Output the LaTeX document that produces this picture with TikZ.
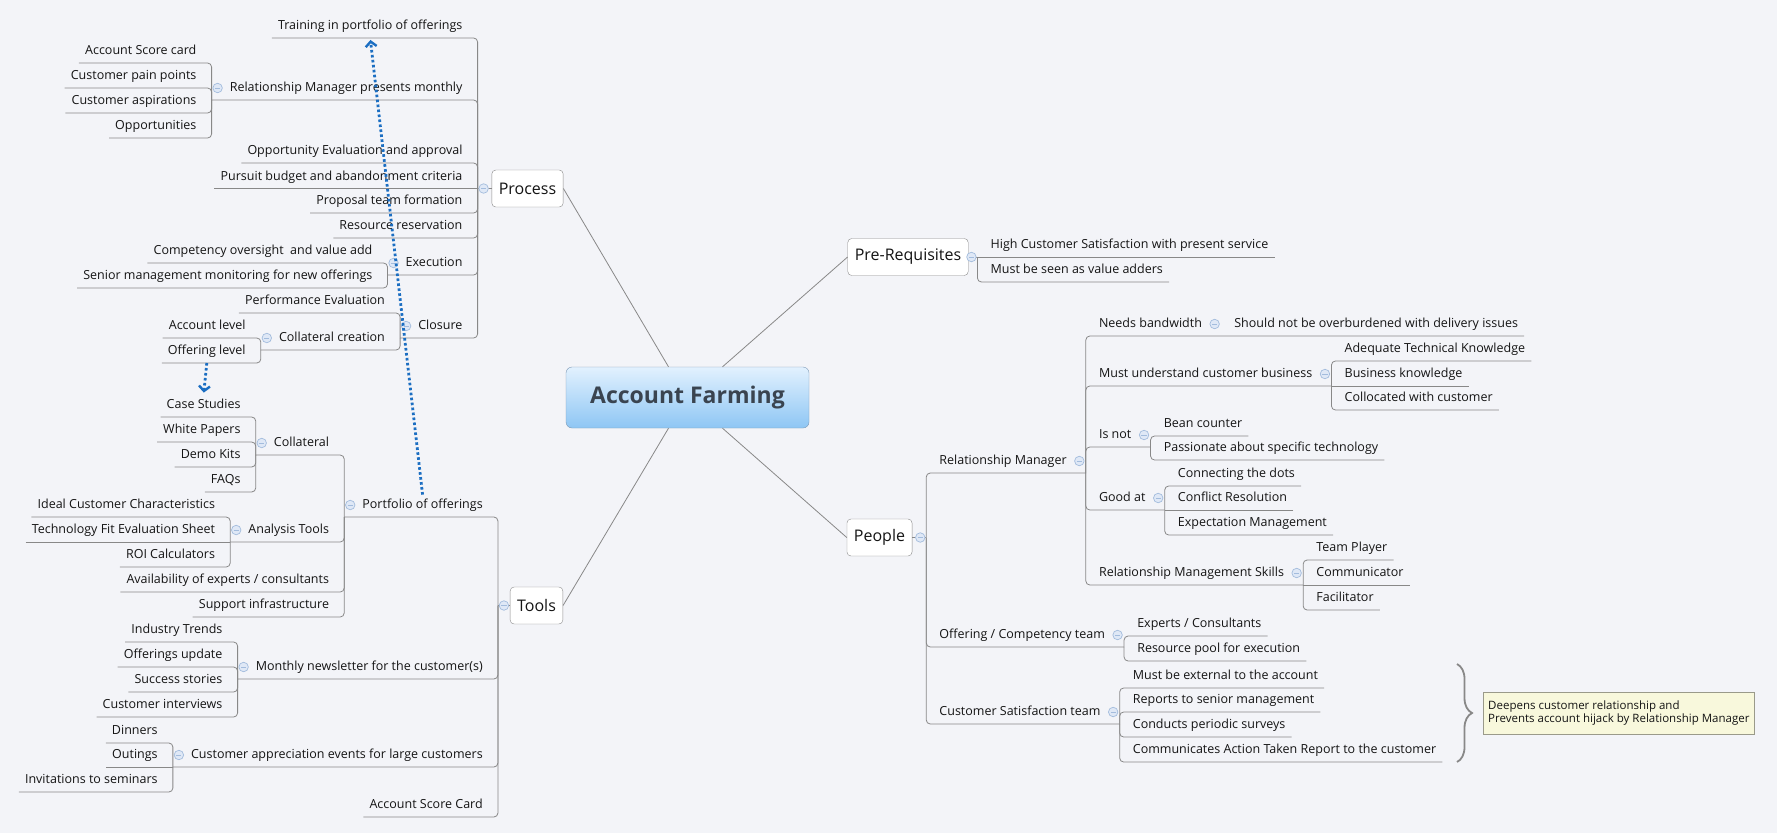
\documentclass[tikz,border=0pt]{standalone}
\usepackage{fontspec}
\setmainfont{Open Sans}
\usetikzlibrary{arrows.meta, decorations.pathreplacing}

\definecolor{bg}{HTML}{F3F4F8}
\definecolor{ink}{HTML}{141414}
\definecolor{wire}{HTML}{888888}
\definecolor{frame}{HTML}{8C8C8C}
\definecolor{hubtop}{HTML}{E2F1FE}
\definecolor{hubbot}{HTML}{8EC6F4}
\definecolor{hubline}{HTML}{7C98B4}
\definecolor{hubtext}{HTML}{3A4450}
\definecolor{togline}{HTML}{A3BCDD}
\definecolor{togfill}{HTML}{DFE8F6}
\definecolor{linkblue}{HTML}{1B6EC2}
\definecolor{notefill}{HTML}{F8F8DC}
\definecolor{noteline}{HTML}{9A9A8A}

\tikzset{
  ln/.style = {draw = wire, line width = 0.8pt, rounded corners = 4pt},
  topic/.style = {font = \fontsize{12.5}{15}\selectfont, text = ink, inner xsep = 6pt, inner ysep = 5pt, text height = 9pt, text depth = 3pt},
  lt/.style = {topic, anchor = south east, xshift = -9pt},
  rt/.style = {topic, anchor = south west, xshift = 7pt},
  branch/.style = {draw = frame, fill = white, rounded corners = 4pt, font = \fontsize{16}{19}\selectfont, text = ink, minimum height = 37pt, inner xsep = 7pt},
  hub/.style = {draw = hubline, top color = hubtop, bottom color = hubbot, rounded corners = 6pt, minimum width = 243pt, minimum height = 61pt, font = \fontsize{23}{27}\selectfont\bfseries, text = hubtext},
  tog/.style = {circle, draw = togline, fill = togfill, line width = 0.7pt, minimum size = 9.5pt, inner sep = 0pt,
    path picture = {\draw[togline, line width = 0.9pt] ([xshift=-2.6pt]path picture bounding box.center) -- ([xshift=2.6pt]path picture bounding box.center);}},
  togL/.style = {tog, xshift = 6pt, yshift = 12pt},
  togR/.style = {tog, xshift = -6.5pt, yshift = 12pt},
  mtogL/.style = {tog, xshift = 6pt},
  mtogR/.style = {tog, xshift = -6pt},
  dotlink/.style = {draw = linkblue, line width = 2.8pt, dash pattern = on 2.6pt off 2.4pt, shorten > = 2pt,
    -{Straight Barb[length = 5pt, width = 11pt, line width = 2.4pt]}},
  note/.style = {draw = noteline, fill = notefill, font = \fontsize{11.5}{13.3}\selectfont, text = ink, align = left, anchor = west, minimum height = 42pt, inner xsep = 5pt},
  brc/.style = {draw = wire, line width = 1.8pt, decorate, decoration = {brace, amplitude = 15pt}}
}

\begin{document}
\begin{tikzpicture}[x=1pt, y=-1pt]
  \fill[bg] (0,0) rectangle (1777,833);
  \useasboundingbox (0,0) rectangle (1777,833);

  % centre and the four branches
  \node[hub] (af) at (687.5,397.5) {Account Farming};
  \node[branch] (process) at (527.5,188.5) {Process};
  \node[branch] (prereq) at (908,257) {Pre-Requisites};
  \node[branch] (people) at (879.5,537.5) {People};
  \node[branch] (tools) at (536.5,605.5) {Tools};
  \draw[ln] ([xshift=-19pt]af.north) -- (process.east);
  \draw[ln] ([xshift=35pt]af.north) -- (prereq.west);
  \draw[ln] ([xshift=35pt]af.south) -- (people.west);
  \draw[ln] ([xshift=-19pt]af.south) -- (tools.east);

  \coordinate (procT) at ([xshift=-14pt]process.west);
  \coordinate (toolT) at ([xshift=-12pt]tools.west);
  \coordinate (prT) at ([xshift=9pt]prereq.east);
  \coordinate (peoT) at ([xshift=14pt]people.east);
  \draw[ln] (process.west) -- (procT);
  \draw[ln] (tools.west) -- (toolT);
  \draw[ln] (prereq.east) -- (prT);
  \draw[ln] (people.east) -- (peoT);

  % Process
  \node[lt] (tr) at (procT |- 0,38) {Training in portfolio of offerings};
  \node[lt] (rmp) at (procT |- 0,100) {Relationship Manager presents monthly};
  \node[lt] (oea) at (procT |- 0,163) {Opportunity Evaluation and approval};
  \node[lt] (pbc) at (procT) {Pursuit budget and abandonment criteria};
  \node[lt] (ptf) at (procT |- 0,213) {Proposal team formation};
  \node[lt] (rr) at (procT |- 0,238) {Resource reservation};
  \node[lt] (ex) at (procT |- 0,275) {Execution};
  \node[lt] (clo) at (procT |- 0,338) {Closure};
  \coordinate (rmpT) at ([xshift=-12pt]rmp.south west);
  \coordinate (exT) at ([xshift=-12pt]ex.south west);
  \coordinate (cloT) at ([xshift=-12pt]clo.south west);

  \node[lt] (ascd) at (rmpT |- 0,63) {Account Score card};
  \node[lt] (cpp) at (rmpT |- 0,88) {Customer pain points};
  \node[lt] (ca) at (rmpT |- 0,113) {Customer aspirations};
  \node[lt] (opp) at (rmpT |- 0,138) {Opportunities};
  \node[lt] (cov) at (exT |- 0,263) {Competency oversight\ \ and value add};
  \node[lt] (smm) at (exT |- 0,288) {Senior management monitoring for new offerings};
  \node[lt] (pe) at (cloT |- 0,313) {Performance Evaluation};
  \node[lt] (cc) at (cloT |- 0,350) {Collateral creation};
  \coordinate (ccT) at ([xshift=-12pt]cc.south west);
  \node[lt] (al) at (ccT |- 0,338) {Account level};
  \node[lt] (ol) at (ccT |- 0,363) {Offering level};

  \foreach \n in {tr, oea, ptf, rr} \draw[ln] (\n.south west) -| (procT);
  \draw[ln] (pbc.south west) -- (procT);
  \foreach \n in {rmpT, exT, cloT} \draw[ln] (\n) -| (procT);
  \foreach \n in {ascd, cpp, ca, opp} \draw[ln] (\n.south west) -| (rmpT);
  \foreach \n in {cov, smm} \draw[ln] (\n.south west) -| (exT);
  \draw[ln] (pe.south west) -| (cloT);
  \draw[ln] (ccT) -| (cloT);
  \foreach \n in {al, ol} \draw[ln] (\n.south west) -| (ccT);

  % Tools
  \node[lt] (port) at (toolT |- 0,517) {Portfolio of offerings};
  \node[lt] (nl) at (toolT |- 0,679) {Monthly newsletter for the customer(s)};
  \node[lt] (ev) at (toolT |- 0,767) {Customer appreciation events for large customers};
  \node[lt] (ascc) at (toolT |- 0,817) {Account Score Card};
  \coordinate (portT) at ([xshift=-12pt]port.south west);
  \coordinate (nlT) at ([xshift=-12pt]nl.south west);
  \coordinate (evT) at ([xshift=-12pt]ev.south west);

  \node[lt] (col) at (portT |- 0,455) {Collateral};
  \node[lt] (ana) at (portT |- 0,542) {Analysis Tools};
  \node[lt] (aec) at (portT |- 0,592) {Availability of experts / consultants};
  \node[lt] (si) at (portT |- 0,617) {Support infrastructure};
  \coordinate (colT) at ([xshift=-12pt]col.south west);
  \coordinate (anaT) at ([xshift=-12pt]ana.south west);

  \node[lt] (cs) at (colT |- 0,417) {Case Studies};
  \node[lt] (wp) at (colT |- 0,442) {White Papers};
  \node[lt] (dk) at (colT |- 0,467) {Demo Kits};
  \node[lt] (faq) at (colT |- 0,492) {FAQs};
  \node[lt] (icc) at (anaT |- 0,517) {Ideal Customer Characteristics};
  \node[lt] (tfe) at (anaT) {Technology Fit Evaluation Sheet};
  \node[lt] (roi) at (anaT |- 0,567) {ROI Calculators};
  \node[lt] (itr) at (nlT |- 0,642) {Industry Trends};
  \node[lt] (ou) at (nlT |- 0,667) {Offerings update};
  \node[lt] (sst) at (nlT |- 0,692) {Success stories};
  \node[lt] (ci) at (nlT |- 0,717) {Customer interviews};
  \node[lt] (din) at (evT |- 0,743) {Dinners};
  \node[lt] (outg) at (evT) {Outings};
  \node[lt] (inv) at (evT |- 0,792) {Invitations to seminars};

  \foreach \n in {portT, nlT, evT} \draw[ln] (\n) -| (toolT);
  \draw[ln] (ascc.south west) -| (toolT);
  \foreach \n in {colT, anaT} \draw[ln] (\n) -| (portT);
  \foreach \n in {aec, si} \draw[ln] (\n.south west) -| (portT);
  \foreach \n in {cs, wp, dk, faq} \draw[ln] (\n.south west) -| (colT);
  \foreach \n in {icc, roi} \draw[ln] (\n.south west) -| (anaT);
  \draw[ln] (tfe.south west) -- (anaT);
  \foreach \n in {itr, ou, sst, ci} \draw[ln] (\n.south west) -| (nlT);
  \foreach \n in {din, inv} \draw[ln] (\n.south west) -| (evT);
  \draw[ln] (outg.south west) -- (evT);

  % Pre-Requisites
  \node[rt] (hcs) at (prT) {High Customer Satisfaction with present service};
  \node[rt] (mbs) at (prT |- 0,282) {Must be seen as value adders};
  \draw[ln] (hcs.south east) -- (prT);
  \draw[ln] (mbs.south east) -| (prT);

  % People
  \node[rt] (rm) at (peoT |- 0,473) {Relationship Manager};
  \node[rt] (oct) at (peoT |- 0,647) {Offering / Competency team};
  \node[rt] (cst) at (peoT |- 0,724) {Customer Satisfaction team};
  \coordinate (rmT) at ([xshift=13pt]rm.south east);
  \coordinate (octT) at ([xshift=13pt]oct.south east);
  \coordinate (cstT) at ([xshift=13pt]cst.south east);

  \node[rt] (nb) at (rmT |- 0,336) {Needs bandwidth};
  \node[rt] (mu) at (rmT |- 0,386) {Must understand customer business};
  \node[rt] (isn) at (rmT |- 0,447) {Is not};
  \node[rt] (ga) at (rmT |- 0,510) {Good at};
  \node[rt] (rms) at (rmT |- 0,585) {Relationship Management Skills};
  \coordinate (nbT) at ([xshift=13pt]nb.south east);
  \coordinate (muT) at ([xshift=13pt]mu.south east);
  \coordinate (isnT) at ([xshift=13pt]isn.south east);
  \coordinate (gaT) at ([xshift=13pt]ga.south east);
  \coordinate (rmsT) at ([xshift=13pt]rms.south east);

  \node[rt] (sno) at (nbT) {Should not be overburdened with delivery issues};
  \node[rt] (atk) at (muT |- 0,361) {Adequate Technical Knowledge};
  \node[rt] (bk) at (muT) {Business knowledge};
  \node[rt] (cwc) at (muT |- 0,410) {Collocated with customer};
  \node[rt] (bc) at (isnT |- 0,436) {Bean counter};
  \node[rt] (pas) at (isnT |- 0,460) {Passionate about specific technology};
  \node[rt] (ctd) at (gaT |- 0,486) {Connecting the dots};
  \node[rt] (cr) at (gaT) {Conflict Resolution};
  \node[rt] (em) at (gaT |- 0,535) {Expectation Management};
  \node[rt] (tp) at (rmsT |- 0,560) {Team Player};
  \node[rt] (com) at (rmsT) {Communicator};
  \node[rt] (fac) at (rmsT |- 0,610) {Facilitator};
  \node[rt] (ecs) at (octT |- 0,636) {Experts / Consultants};
  \node[rt] (rpe) at (octT |- 0,661) {Resource pool for execution};
  \node[rt] (mbe) at (cstT |- 0,688) {Must be external to the account};
  \node[rt] (rsm) at (cstT |- 0,712) {Reports to senior management};
  \node[rt] (cps) at (cstT |- 0,737) {Conducts periodic surveys};
  \node[rt] (cat) at (cstT |- 0,762) {Communicates Action Taken Report to the customer};

  \foreach \n in {rmT, octT, cstT} \draw[ln] (\n) -| (peoT);
  \foreach \n in {muT, isnT, gaT, rmsT} \draw[ln] (\n) -| (rmT);
  \draw[ln] (sno.south east) -- (nbT) -| (rmT);
  \foreach \n in {atk, cwc} \draw[ln] (\n.south east) -| (muT);
  \draw[ln] (bk.south east) -- (muT);
  \foreach \n in {bc, pas} \draw[ln] (\n.south east) -| (isnT);
  \foreach \n in {ctd, em} \draw[ln] (\n.south east) -| (gaT);
  \draw[ln] (cr.south east) -- (gaT);
  \foreach \n in {tp, fac} \draw[ln] (\n.south east) -| (rmsT);
  \draw[ln] (com.south east) -- (rmsT);
  \foreach \n in {ecs, rpe} \draw[ln] (\n.south east) -| (octT);
  \foreach \n in {mbe, rsm, cps, cat} \draw[ln] (\n.south east) -| (cstT);

  % summary brace and note
  \coordinate (brtop) at (1457,664);
  \coordinate (brbot) at (1457,762);
  \draw[brc] (brtop) -- (brbot);
  \node[note] (nt) at (1483,713) {Deepens customer relationship and\\Prevents account hijack by Relationship Manager};

  % collapse markers
  \node[mtogL] at (procT) {};
  \node[mtogL] at (toolT) {};
  \node[mtogR] at (prT) {};
  \node[mtogR] at (peoT) {};
  \foreach \n in {rmpT, exT, cloT, ccT, portT, colT, anaT, nlT, evT} \node[togL] at (\n) {};
  \foreach \n in {rmT, nbT, muT, isnT, gaT, rmsT, octT, cstT} \node[togR] at (\n) {};

  % relationship links
  \draw[dotlink] (port.north) -- (tr.south);
  \draw[dotlink] (ol.south) -- (cs.north);
\end{tikzpicture}
\end{document}
